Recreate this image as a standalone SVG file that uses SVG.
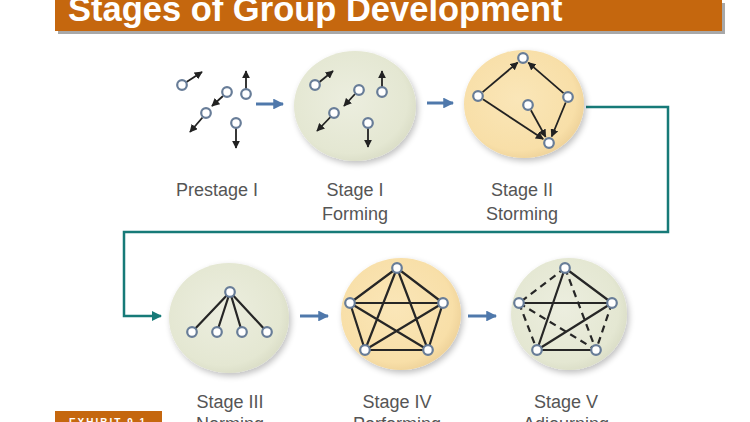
<svg xmlns="http://www.w3.org/2000/svg" width="750" height="422" viewBox="0 0 750 422">
<defs>
<style>
.lbl{font-family:"Liberation Sans",Arial,sans-serif;font-size:18px;fill:#555;text-anchor:middle}
.nd{fill:#fff;stroke:#687d98;stroke-width:2.2}
.ed{stroke:#262626;stroke-width:2.2;fill:none;stroke-linecap:round}
.dash{stroke-dasharray:7 5;stroke-linecap:butt}
.sm{stroke:#222;stroke-width:1.8;fill:none;marker-end:url(#ah)}
.blue{stroke:#4f78ab;stroke-width:3;fill:none;marker-end:url(#bh)}
</style>
<marker id="ah" viewBox="0 0 10 10" refX="9" refY="5" markerWidth="4.5" markerHeight="4.5" orient="auto"><path d="M0,0 L10,5 L0,10 z" fill="#222"/></marker>
<marker id="bh" viewBox="0 0 10 10" refX="9" refY="5" markerWidth="3.6" markerHeight="3.6" orient="auto"><path d="M0,0 L10,5 L0,10 z" fill="#4f78ab"/></marker>
<marker id="th" viewBox="0 0 10 10" refX="9" refY="5" markerWidth="4" markerHeight="4" orient="auto"><path d="M0,0 L10,5 L0,10 z" fill="#177a78"/></marker>
<radialGradient id="gGreen" cx="0.45" cy="0.45" r="0.6"><stop offset="0" stop-color="#eceedf"/><stop offset="0.8" stop-color="#e4e7d2"/><stop offset="1" stop-color="#d8dbc4"/></radialGradient>
<radialGradient id="gPeach" cx="0.45" cy="0.45" r="0.6"><stop offset="0" stop-color="#fae6b8"/><stop offset="0.8" stop-color="#f8dfa8"/><stop offset="1" stop-color="#eccf96"/></radialGradient>
<filter id="sh" x="-20%" y="-20%" width="140%" height="140%"><feGaussianBlur in="SourceAlpha" stdDeviation="3"/><feOffset dx="2" dy="3"/><feComponentTransfer><feFuncA type="linear" slope="0.25"/></feComponentTransfer><feMerge><feMergeNode/><feMergeNode in="SourceGraphic"/></feMerge></filter>
</defs>
<rect width="750" height="422" fill="#fff"/>

<g id="title">
<rect x="58" y="3" width="667" height="31" fill="#a8a8a8"/>
<rect x="55" y="-5" width="667" height="36" fill="#c5670e"/>
<text x="68" y="21" font-family="Liberation Sans,Arial,sans-serif" font-size="34.5" font-weight="bold" fill="#fff">Stages of Group Development</text>
</g>

<g id="connectors">
<line class="blue" x1="256" y1="104" x2="283" y2="104"/>
<line class="blue" x1="427" y1="103" x2="453" y2="103"/>
<line class="blue" x1="300" y1="316" x2="328" y2="316"/>
<line class="blue" x1="468" y1="316" x2="496" y2="316"/>
<path d="M586,107 H668 V232 H124 V316 H161" stroke="#177a78" stroke-width="2.5" fill="none" marker-end="url(#th)"/>
</g>

<g id="prestage">
<line class="sm" x1="186.5" y1="82" x2="202" y2="72"/>
<line class="sm" x1="223" y1="96" x2="212" y2="106"/>
<line class="sm" x1="202.5" y1="117.5" x2="190" y2="132"/>
<line class="sm" x1="246" y1="89" x2="246" y2="71"/>
<line class="sm" x1="236" y1="128" x2="236" y2="148"/>
<circle class="nd" cx="182" cy="85" r="4.8"/>
<circle class="nd" cx="227" cy="92" r="4.8"/>
<circle class="nd" cx="206" cy="113" r="4.8"/>
<circle class="nd" cx="246" cy="94" r="4.8"/>
<circle class="nd" cx="236" cy="123" r="4.8"/>
<text class="lbl" x="217" y="196">Prestage I</text>
</g>

<g id="stage1">
<ellipse cx="355" cy="106" rx="61" ry="55" fill="url(#gGreen)" filter="url(#sh)"/>
<line class="sm" x1="319.5" y1="82" x2="333" y2="71"/>
<line class="sm" x1="355" y1="94" x2="344" y2="106"/>
<line class="sm" x1="382" y1="87" x2="382" y2="71"/>
<line class="sm" x1="330.5" y1="117" x2="317" y2="131"/>
<line class="sm" x1="368" y1="128" x2="368" y2="147"/>
<circle class="nd" cx="315" cy="85" r="4.8"/>
<circle class="nd" cx="359" cy="90" r="4.8"/>
<circle class="nd" cx="382" cy="92" r="4.8"/>
<circle class="nd" cx="334" cy="113" r="4.8"/>
<circle class="nd" cx="368" cy="123" r="4.8"/>
<text class="lbl" x="355" y="196">Stage I</text>
<text class="lbl" x="355" y="220">Forming</text>
</g>

<g id="stage2">
<ellipse cx="524" cy="104" rx="60" ry="54" fill="url(#gPeach)" filter="url(#sh)"/>
<line class="sm" x1="482.6" y1="92.1" x2="517.7" y2="62.5"/>
<line class="sm" x1="563.5" y1="93.1" x2="528.3" y2="62.6"/>
<line class="sm" x1="483" y1="99.3" x2="543.2" y2="139.1"/>
<line class="sm" x1="530.9" y1="110.3" x2="545.6" y2="136.9"/>
<line class="sm" x1="565.7" y1="102.5" x2="551.7" y2="136.5"/>
<circle class="nd" cx="523" cy="58" r="4.8"/>
<circle class="nd" cx="478" cy="96" r="4.8"/>
<circle class="nd" cx="568" cy="97" r="4.8"/>
<circle class="nd" cx="528" cy="105" r="4.8"/>
<circle class="nd" cx="549" cy="143" r="4.8"/>
<text class="lbl" x="522" y="196">Stage II</text>
<text class="lbl" x="522" y="220">Storming</text>
</g>

<g id="stage3">
<ellipse cx="229" cy="318" rx="60" ry="55" fill="url(#gGreen)" filter="url(#sh)"/>
<path class="ed" d="M230,292 L192,332 M230,292 L217,332 M230,292 L242,332 M230,292 L267,332"/>
<circle class="nd" cx="230" cy="292" r="4.8"/>
<circle class="nd" cx="192" cy="332" r="4.8"/>
<circle class="nd" cx="217" cy="332" r="4.8"/>
<circle class="nd" cx="242" cy="332" r="4.8"/>
<circle class="nd" cx="267" cy="332" r="4.8"/>
<text class="lbl" x="230" y="408">Stage III</text>
<text class="lbl" x="230" y="430">Norming</text>
</g>

<g id="stage4">
<ellipse cx="401" cy="314" rx="60" ry="56" fill="url(#gPeach)" filter="url(#sh)"/>
<path class="ed" d="M397,268 L350,303 M397,268 L443,303 M397,268 L365,350 M397,268 L428,350 M350,303 L443,303 M350,303 L365,350 M350,303 L428,350 M443,303 L365,350 M443,303 L428,350 M365,350 L428,350"/>
<circle class="nd" cx="397" cy="268" r="4.8"/>
<circle class="nd" cx="350" cy="303" r="4.8"/>
<circle class="nd" cx="443" cy="303" r="4.8"/>
<circle class="nd" cx="365" cy="350" r="4.8"/>
<circle class="nd" cx="428" cy="350" r="4.8"/>
<text class="lbl" x="397" y="408">Stage IV</text>
<text class="lbl" x="397" y="430">Performing</text>
</g>

<g id="stage5">
<ellipse cx="569" cy="314" rx="58" ry="56" fill="url(#gGreen)" filter="url(#sh)"/>
<path class="ed" d="M565,268 L612,303 M565,268 L537,350 M519,303 L612,303 M537,350 L596,350 M537,350 L612,303"/>
<path class="ed dash" d="M565,268 L519,303 M565,268 L596,350 M519,303 L537,350 M519,303 L596,350 M612,303 L596,350"/>
<circle class="nd" cx="565" cy="268" r="4.8"/>
<circle class="nd" cx="519" cy="303" r="4.8"/>
<circle class="nd" cx="612" cy="303" r="4.8"/>
<circle class="nd" cx="537" cy="350" r="4.8"/>
<circle class="nd" cx="596" cy="350" r="4.8"/>
<text class="lbl" x="566" y="408">Stage V</text>
<text class="lbl" x="566" y="430">Adjourning</text>
</g>

<g id="exhibit">
<rect x="55" y="411" width="107" height="20" fill="#c5670e"/>
<text x="108" y="426" font-family="Liberation Sans,Arial,sans-serif" font-size="10" font-weight="bold" letter-spacing="2" fill="#fff" text-anchor="middle">EXHIBIT 9.1</text>
</g>
</svg>
